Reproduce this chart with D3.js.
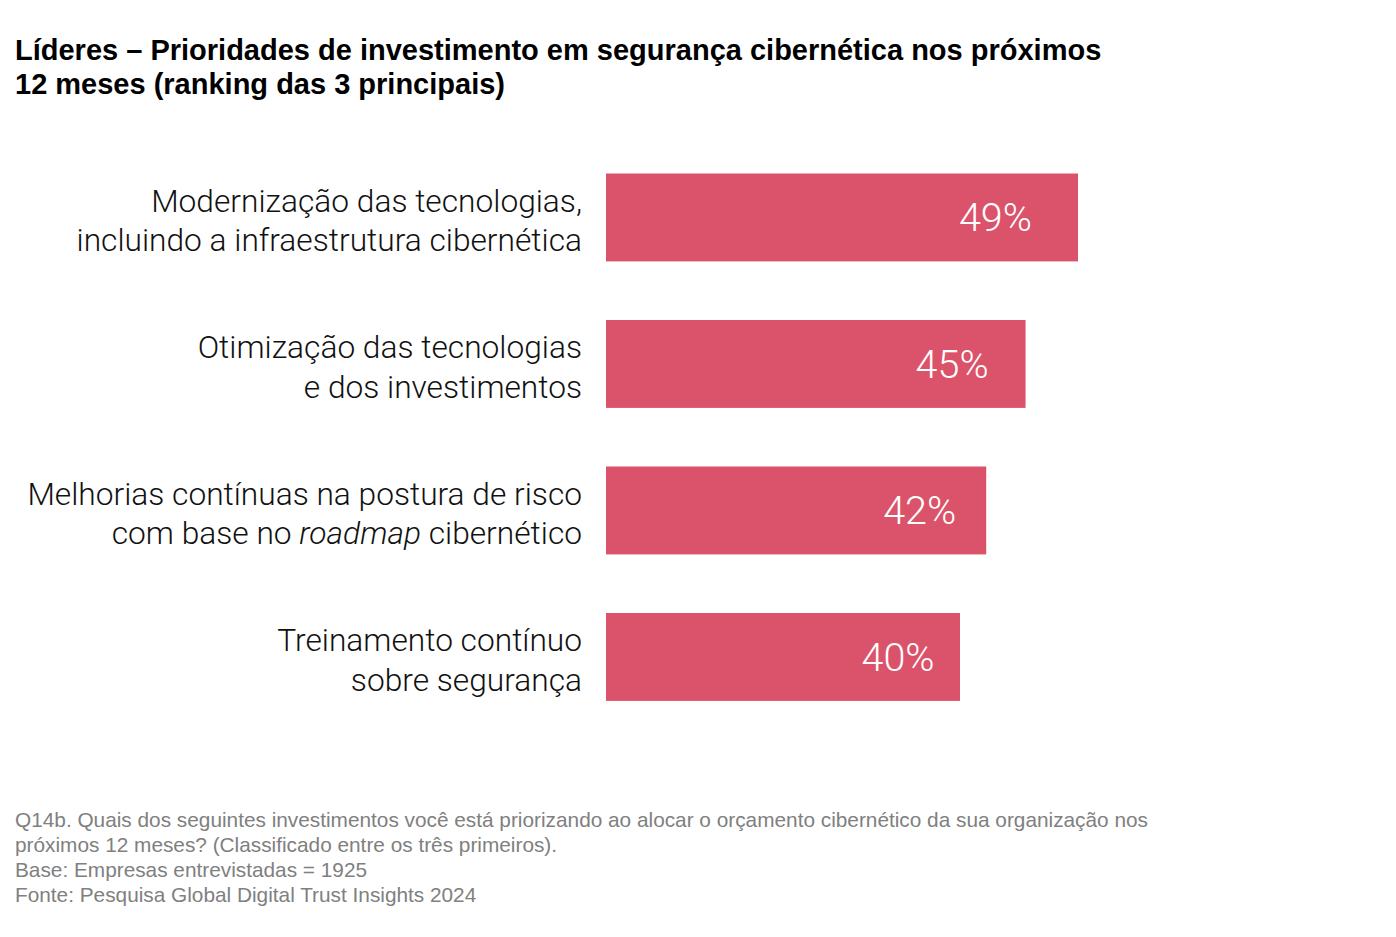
<!DOCTYPE html>
<html>
<head>
<meta charset="utf-8">
<script src="https://cdn.jsdelivr.net/npm/d3@7/dist/d3.min.js"></script>
<style>
  html, body { margin: 0; padding: 0; background: #fff; }
  svg { display: block; }
</style>
</head>
<body>
<svg id="chart" width="1396" height="937"></svg>
<script>
// ---- data ----
const titleLines = [
  "Líderes – Prioridades de investimento em segurança cibernética nos próximos",
  "12 meses (ranking das 3 principais)"
];
const categories = [
  ["Modernização das tecnologias,", "incluindo a infraestrutura cibernética"],
  ["Otimização das tecnologias", "e dos investimentos"],
  ["Melhorias contínuas na postura de risco", "com base no *roadmap* cibernético"],
  ["Treinamento contínuo", "sobre segurança"]
];
const values = [49, 45, 42, 40];
const valueLabels = ["49%", "45%", "42%", "40%"];
const footnoteLines = [
  "Q14b. Quais dos seguintes investimentos você está priorizando ao alocar o orçamento cibernético da sua organização nos",
  "próximos 12 meses? (Classificado entre os três primeiros).",
  "Base: Empresas entrevistadas = 1925",
  "Fonte: Pesquisa Global Digital Trust Insights 2024"
];

// ---- chart ----
const svg = d3.select("#chart");
const barColor = "#DB536A";
const catFont = "Roboto, 'Liberation Sans', Arial, sans-serif";
const boldFont = "'Liberation Sans', Arial, Helvetica, sans-serif";

svg.append("g").selectAll("text").data(titleLines).join("text")
  .attr("x", 15)
  .attr("y", (d, i) => 59.5 + i * 34.5)
  .attr("font-family", boldFont)
  .attr("font-weight", 700)
  .attr("font-size", 29)
  .attr("fill", "#000")
  .text(d => d);

const idx = values.map((d, i) => i);
const y = d3.scaleBand().domain(idx).range([144.2, 730.2]).paddingInner(0.4).paddingOuter(0.2);
const x = d3.scaleLinear().domain([13, 49]).range([606, 1078]);

svg.append("g").selectAll("rect").data(idx).join("rect")
  .attr("x", x(13))
  .attr("y", i => y(i))
  .attr("width", i => x(values[i]) - x(13))
  .attr("height", y.bandwidth())
  .attr("fill", barColor);

svg.append("g").selectAll("text").data(idx).join("text")
  .attr("x", i => x(13) + 0.825 * (x(values[i]) - x(13)))
  .attr("y", i => y(i) + y.bandwidth() / 2 + 14)
  .attr("text-anchor", "middle")
  .attr("font-family", catFont)
  .attr("font-weight", 300)
  .attr("font-size", 39.5)
  .attr("fill", "#fff")
  .text(i => valueLabels[i]);

const catG = svg.append("g");
idx.forEach(i => {
  const cy = y(i) + y.bandwidth() / 2;
  const t = catG.append("text")
    .attr("text-anchor", "end")
    .attr("font-family", catFont)
    .attr("font-weight", 300)
    .attr("font-size", 31.7)
    .attr("fill", "#111");
  categories[i].forEach((line, li) => {
    const parts = line.split("*");
    parts.forEach((p, pi) => {
      if (!p) return;
      const ts = t.append("tspan").text(p);
      if (pi === 0) ts.attr("x", 582).attr("y", cy - 5.5 + li * 39.5);
      if (pi % 2 === 1) ts.attr("font-style", "italic");
    });
  });
});

svg.append("g").selectAll("text").data(footnoteLines).join("text")
  .attr("x", 15)
  .attr("y", (d, i) => 826.5 + i * 25)
  .attr("font-family", boldFont)
  .attr("font-size", 20.8)
  .attr("fill", "#808080")
  .text(d => d);
</script>
</body>
</html>
